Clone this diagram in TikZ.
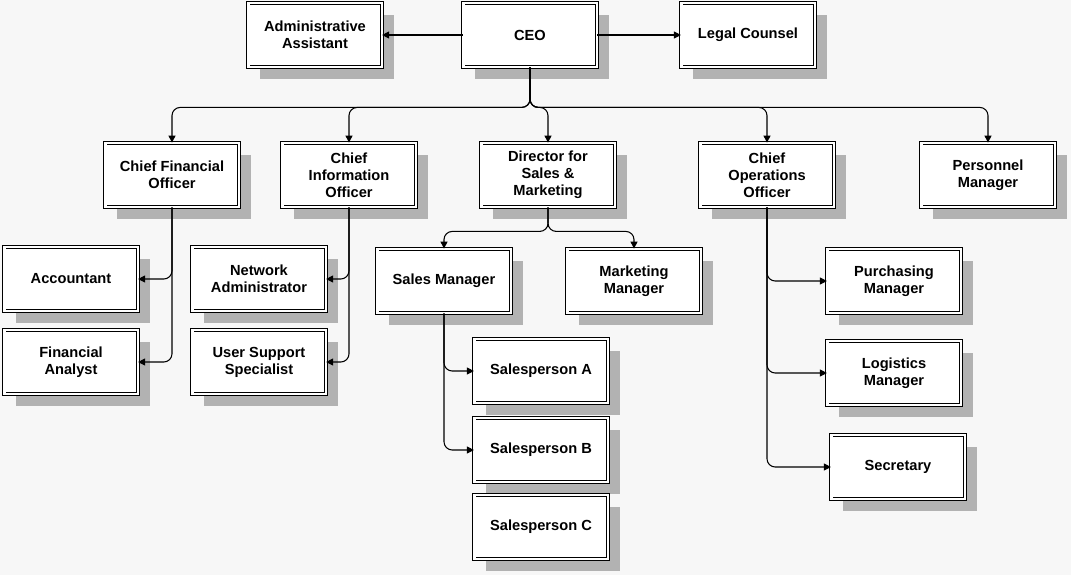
\documentclass[tikz,border=0pt]{standalone}
\usepackage{fontspec}
\setmainfont{Liberation Sans}
\usetikzlibrary{arrows.meta}
\begin{document}
\begin{tikzpicture}[x=0.03cm,y=-0.03cm,
 box/.style={draw=black,line width=0.7pt,double=white,double distance=2pt,fill=white,minimum width=4.0cm,minimum height=1.92cm,align=center,font=\bfseries\fontsize{12.5}{14.5}\selectfont,inner sep=1pt},
 shad/.style={fill=black!30,draw=none,minimum width=4.0cm,minimum height=1.92cm},
 con/.style={line width=0.9pt,rounded corners=7pt,-{Triangle[length=6pt,width=6pt]}}]
\fill[black!3] (0,0) rectangle (1071,575);
\useasboundingbox (0,0) rectangle (1071,575);
\foreach \x/\y in {315/35,530/35,748/35,172/175,349/175,548/175,767/175,988/175,71/279,71/362,259/279,259/362,444/281,634/281,541/371,541/450,541/527,894/281,894/373,898/467}
  \node[shad] at (\x+12,\y+12) {};
\node[box] (adm) at (315,35) {Administrative\\Assistant};
\node[box] (ceo) at (530,35) {CEO};
\node[box] (leg) at (748,35) {Legal Counsel};
\node[box] (cfo) at (172,175) {Chief Financial\\Officer};
\node[box] (cio) at (349,175) {Chief\\Information\\Officer};
\node[box] (dir) at (548,175) {Director for\\Sales \&\\Marketing};
\node[box] (coo) at (767,175) {Chief\\Operations\\Officer};
\node[box] (per) at (988,175) {Personnel\\Manager};
\node[box] (acc) at (71,279) {Accountant};
\node[box] (fa) at (71,362) {Financial\\Analyst};
\node[box] (net) at (259,279) {Network\\Administrator};
\node[box] (usr) at (259,362) {User Support\\Specialist};
\node[box] (sm) at (444,281) {Sales Manager};
\node[box] (mm) at (634,281) {Marketing\\Manager};
\node[box] (sa) at (541,371) {Salesperson A};
\node[box] (sb) at (541,450) {Salesperson B};
\node[box] (sc) at (541,527) {Salesperson C};
\node[box] (pm) at (894,281) {Purchasing\\Manager};
\node[box] (lm) at (894,373) {Logistics\\Manager};
\node[box] (sec) at (898,467) {Secretary};
\draw[con] (ceo.west) -- (adm.east);
\draw[con] (ceo.east) -- (leg.west);
\foreach \t in {cfo,cio,dir,coo,per}
  \draw[con] (ceo.south) -- ++(0,40) -| (\t.north);
\foreach \t in {sm,mm}
  \draw[con] (dir.south) -- ++(0,24) -| (\t.north);
\foreach \t in {acc,fa} \draw[con] (cfo.south) |- (\t.east);
\foreach \t in {net,usr} \draw[con] (cio.south) |- (\t.east);
\foreach \t in {sa,sb} \draw[con] (sm.south) |- (\t.west);
\foreach \t in {pm,lm,sec} \draw[con] (coo.south) |- (\t.west);
\end{tikzpicture}
\end{document}
